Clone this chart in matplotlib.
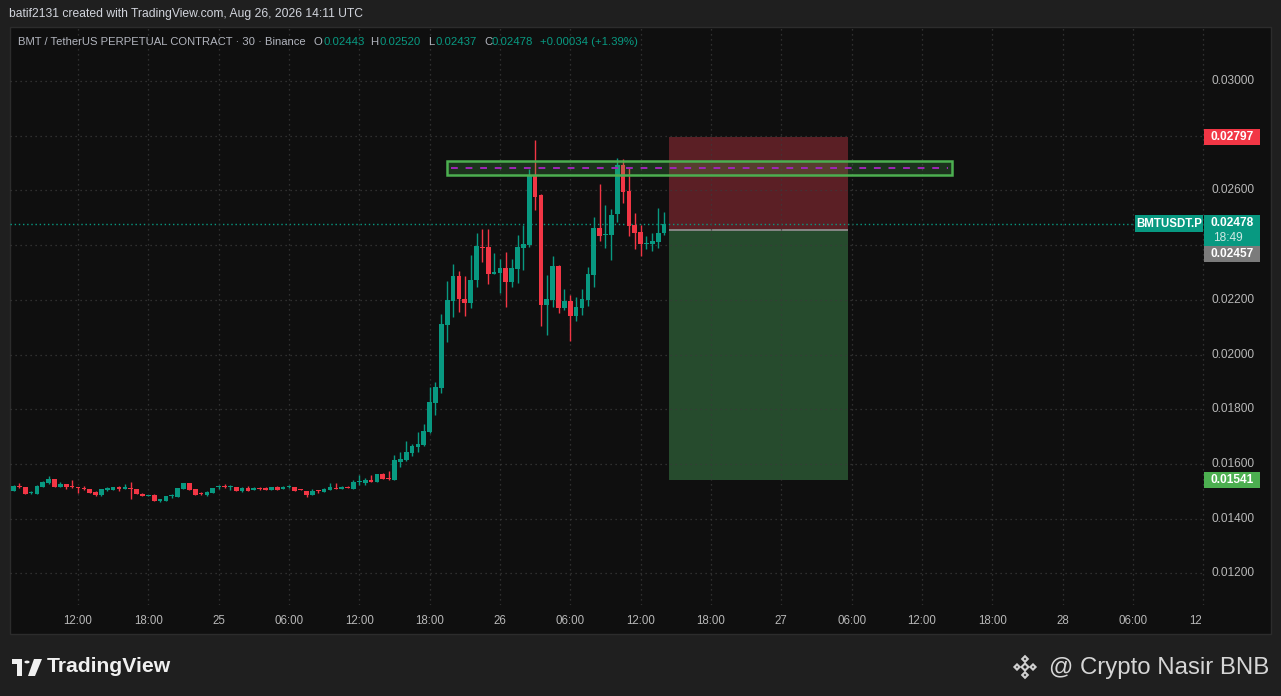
import numpy as np
import pandas as pd
import matplotlib
matplotlib.use("Agg")
import matplotlib.pyplot as plt
from matplotlib.patches import Rectangle, Polygon, Circle
from matplotlib.transforms import Bbox, TransformedBbox

plt.rcParams['font.family'] = ['Liberation Sans', 'DejaVu Sans']

# ============================================================
# DATA  (BMT/USDT.P, 30 min candles)
# ============================================================
start_time = '2026-08-24 06:30'
opens = [0.01502, 0.01519, 0.01516, 0.01493, 0.01491, 0.01517, 0.01530, 0.01545, 0.01517, 0.01527, 0.01521,
         0.01516, 0.01511, 0.01508, 0.01499, 0.01485, 0.01506, 0.01506, 0.01516, 0.01510, 0.01512, 0.01507,
         0.01491, 0.01482, 0.01488, 0.01466, 0.01466, 0.01483, 0.01480, 0.01510, 0.01530, 0.01508, 0.01492,
         0.01485, 0.01494, 0.01514, 0.01517, 0.01514, 0.01516, 0.01502, 0.01512, 0.01505, 0.01512, 0.01512,
         0.01505, 0.01516, 0.01510, 0.01514, 0.01516, 0.01507, 0.01501, 0.01486, 0.01505, 0.01497, 0.01505,
         0.01512, 0.01510, 0.01517, 0.01508, 0.01534, 0.01529, 0.01541, 0.01534, 0.01563, 0.01547, 0.01541,
         0.01608, 0.01614, 0.01641, 0.01663, 0.01669, 0.01717, 0.01823, 0.01877, 0.02108, 0.02197, 0.02287,
         0.02203, 0.02190, 0.02272, 0.02394, 0.02393, 0.02296, 0.02299, 0.02316, 0.02265, 0.02314, 0.02391,
         0.02400, 0.02653, 0.02583, 0.02181, 0.02199, 0.02324, 0.02171, 0.02196, 0.02141, 0.02171, 0.02199,
         0.02291, 0.02463, 0.02438, 0.02437, 0.02514, 0.02693, 0.02598, 0.02474, 0.02448, 0.02404, 0.02404,
         0.02411, 0.02443]
highs = [0.01524, 0.01530, 0.01517, 0.01502, 0.01524, 0.01536, 0.01556, 0.01546, 0.01534, 0.01528, 0.01541,
         0.01517, 0.01521, 0.01509, 0.01500, 0.01509, 0.01516, 0.01516, 0.01518, 0.01525, 0.01534, 0.01508,
         0.01492, 0.01487, 0.01489, 0.01473, 0.01484, 0.01491, 0.01513, 0.01532, 0.01531, 0.01509, 0.01496,
         0.01500, 0.01513, 0.01523, 0.01526, 0.01523, 0.01517, 0.01514, 0.01519, 0.01514, 0.01517, 0.01516,
         0.01515, 0.01519, 0.01519, 0.01522, 0.01517, 0.01510, 0.01502, 0.01507, 0.01506, 0.01512, 0.01529,
         0.01529, 0.01519, 0.01519, 0.01541, 0.01560, 0.01547, 0.01560, 0.01564, 0.01566, 0.01574, 0.01632,
         0.01643, 0.01684, 0.01673, 0.01717, 0.01746, 0.01880, 0.01899, 0.02148, 0.02269, 0.02331, 0.02305,
         0.02287, 0.02364, 0.02443, 0.02459, 0.02459, 0.02370, 0.02348, 0.02376, 0.02349, 0.02437, 0.02474,
         0.02677, 0.02784, 0.02587, 0.02290, 0.02360, 0.02326, 0.02239, 0.02218, 0.02210, 0.02239, 0.02320,
         0.02503, 0.02623, 0.02547, 0.02532, 0.02719, 0.02715, 0.02682, 0.02517, 0.02474, 0.02433, 0.02444,
         0.02536, 0.02520]
lows = [0.01500, 0.01512, 0.01490, 0.01489, 0.01490, 0.01515, 0.01527, 0.01516, 0.01516, 0.01509, 0.01512,
        0.01494, 0.01503, 0.01494, 0.01482, 0.01484, 0.01500, 0.01505, 0.01502, 0.01508, 0.01473, 0.01489,
        0.01481, 0.01481, 0.01465, 0.01462, 0.01465, 0.01474, 0.01479, 0.01509, 0.01505, 0.01487, 0.01488,
        0.01484, 0.01493, 0.01507, 0.01512, 0.01505, 0.01501, 0.01499, 0.01501, 0.01504, 0.01505, 0.01504,
        0.01504, 0.01504, 0.01507, 0.01512, 0.01501, 0.01503, 0.01480, 0.01485, 0.01495, 0.01496, 0.01504,
        0.01507, 0.01509, 0.01512, 0.01507, 0.01523, 0.01523, 0.01533, 0.01533, 0.01544, 0.01543, 0.01540,
        0.01590, 0.01612, 0.01629, 0.01645, 0.01665, 0.01712, 0.01779, 0.01859, 0.02047, 0.02138, 0.02157,
        0.02141, 0.02171, 0.02248, 0.02339, 0.02258, 0.02295, 0.02226, 0.02175, 0.02248, 0.02263, 0.02309,
        0.02394, 0.02528, 0.02104, 0.02071, 0.02175, 0.02152, 0.02163, 0.02049, 0.02122, 0.02144, 0.02177,
        0.02247, 0.02415, 0.02389, 0.02346, 0.02485, 0.02554, 0.02433, 0.02386, 0.02360, 0.02386, 0.02378,
        0.02389, 0.02437]
closes = [0.01519, 0.01514, 0.01491, 0.01496, 0.01518, 0.01534, 0.01545, 0.01517, 0.01528, 0.01517, 0.01514,
          0.01513, 0.01508, 0.01495, 0.01485, 0.01508, 0.01508, 0.01514, 0.01508, 0.01512, 0.01507, 0.01490,
          0.01482, 0.01486, 0.01466, 0.01469, 0.01483, 0.01486, 0.01512, 0.01530, 0.01506, 0.01488, 0.01489,
          0.01499, 0.01512, 0.01518, 0.01514, 0.01517, 0.01502, 0.01512, 0.01502, 0.01512, 0.01508, 0.01505,
          0.01514, 0.01505, 0.01516, 0.01517, 0.01502, 0.01504, 0.01486, 0.01501, 0.01501, 0.01508, 0.01517,
          0.01508, 0.01517, 0.01513, 0.01534, 0.01537, 0.01541, 0.01534, 0.01563, 0.01545, 0.01544, 0.01614,
          0.01619, 0.01643, 0.01665, 0.01673, 0.01720, 0.01826, 0.01881, 0.02112, 0.02199, 0.02287, 0.02204,
          0.02190, 0.02272, 0.02397, 0.02389, 0.02296, 0.02303, 0.02316, 0.02265, 0.02316, 0.02394, 0.02404,
          0.02653, 0.02577, 0.02181, 0.02203, 0.02324, 0.02171, 0.02196, 0.02141, 0.02174, 0.02203, 0.02294,
          0.02463, 0.02433, 0.02442, 0.02510, 0.02693, 0.02594, 0.02470, 0.02444, 0.02404, 0.02408, 0.02415,
          0.02444, 0.02478]

# position tool (short) and resistance zone
pos_start, pos_end = '2026-08-26 14:27', '2026-08-27 05:42'
entry_price, stop_price, target_price = 0.02457, 0.02797, 0.01541
zone_start, zone_end = '2026-08-25 19:30', '2026-08-27 14:33'
zone_low, zone_high, zone_mid = 0.02657, 0.02708, 0.02681
last_price = 0.02478

price_levels = [0.012, 0.014, 0.016, 0.018, 0.020, 0.022, 0.024, 0.026, 0.028, 0.030]
hidden_levels = [0.024, 0.028]   # covered by the coloured price labels

# ============================================================
# LAYOUT HELPERS (figure pixels)
# ============================================================
W, H = 1281, 696
BG_OUT, BG_PANEL = '#1f1f1f', '#0f0f0f'
UP, DOWN = '#089981', '#f23645'
GRID = '#3a3a3a'
AXTXT = '#b8b8b8'


def fx(x):
    return x / W


def fy(y):
    return 1 - y / H


ref = pd.Timestamp('2026-08-24 12:00')
step = pd.Timedelta('30min')


def tpos(t):
    return (pd.Timestamp(t) - ref) / step


times = pd.date_range(start_time, periods=len(opens), freq='30min')
xs = np.array([tpos(t) for t in times])
o, h, l, c = map(np.array, (opens, highs, lows, closes))

XMIN, XMAX = -11.6, 192.3
YMIN, YMAX = 0.010843, 0.031974
ppx = (YMAX - YMIN) / (605 - 27)   # price per pixel

fig = plt.figure(figsize=(W / 100, H / 100), dpi=100, facecolor=BG_OUT)
fig.patches.append(Rectangle((fx(10), fy(634)), (1271 - 10) / W, (634 - 27) / H,
                             transform=fig.transFigure, facecolor=BG_PANEL,
                             edgecolor='#2c2c2c', lw=1, zorder=-10))

ax = fig.add_axes([fx(10), fy(605), (1205 - 10) / W, (605 - 27) / H])
ax.set_facecolor('none')
ax.set_xlim(XMIN, XMAX)
ax.set_ylim(YMIN, YMAX)

tick_times = pd.date_range('2026-08-24 12:00', '2026-08-28 12:00', freq='6h')
tick_x = [tpos(t) for t in tick_times]
tick_lbl = [str(t.day) if t.hour == 0 else t.strftime('%H:%M') for t in tick_times]

ax.set_xticks(tick_x)
ax.set_yticks(price_levels)
ax.grid(True, color=GRID, ls=(0, (1, 3)), lw=0.9)
ax.tick_params(length=0, labelbottom=False, labelleft=False)
for s in ax.spines.values():
    s.set_visible(False)

# ============================================================
# CANDLES
# ============================================================
cols = np.where(c >= o, UP, DOWN)
ax.vlines(xs, l, h, colors=cols, lw=1, zorder=2)
body_lo = np.minimum(o, c)
body_h = np.maximum(np.abs(c - o), ppx * 1.2)
ax.bar(xs, body_h, bottom=body_lo, width=0.8, color=cols, lw=0, zorder=2)

# current price dotted line
ax.axhline(last_price, color=UP, ls=(0, (1, 2)), lw=1, zorder=1.5)

# ============================================================
# SHORT POSITION TOOL + RESISTANCE BOX
# ============================================================
p0, p1 = tpos(pos_start), tpos(pos_end)
ax.add_patch(Rectangle((p0, entry_price), p1 - p0, stop_price - entry_price,
                       facecolor='#5b1f25', lw=0, zorder=1))
ax.add_patch(Rectangle((p0, target_price), p1 - p0, entry_price - target_price,
                       facecolor='#264b2d', lw=0, zorder=1))
ax.hlines(entry_price, p0, p1, color='#8c8c8c', lw=1.3, zorder=1.2)

z0, z1 = tpos(zone_start), tpos(zone_end)
ax.add_patch(Rectangle((z0, zone_low), z1 - z0, zone_high - zone_low,
                       facecolor=(76 / 255, 175 / 255, 80 / 255, 0.22),
                       edgecolor='#4caf50', lw=1.8, zorder=3))
ax.hlines(zone_mid, z0 + 0.6, z1 - 0.6, color='#a027b8', ls=(0, (3.5, 4)), lw=1.4, zorder=3.1)

# symbol label at the right edge of the plot
yt = ax.get_yaxis_transform()
ax.add_patch(Rectangle(((1135 - 10) / 1195, last_price - 8.5 * ppx), (1203 - 1135) / 1195, 17 * ppx,
                       transform=yt, facecolor=UP, lw=0, zorder=5, clip_on=False))
ax.text((1169 - 10) / 1195, last_price, 'BMTUSDT.P', transform=yt, ha='center', va='center',
        color='white', fontsize=8.3, fontweight='bold', zorder=6)

# ============================================================
# PRICE SCALE
# ============================================================
pax = fig.add_axes([fx(1205), fy(605), (1271 - 1205) / W, (605 - 27) / H])
pax.set_facecolor('none')
pax.set_ylim(YMIN, YMAX)
pax.set_xlim(0, 1)
pax.axis('off')
for lv in price_levels:
    if lv in hidden_levels:
        continue
    pax.text(7 / 66, lv, f'{lv:.5f}', ha='left', va='center', color=AXTXT, fontsize=8.6)


def price_tag(price, text, color, y_off=0.0, h_px=16):
    pax.add_patch(Rectangle((-1 / 66, price - (h_px / 2) * ppx + y_off), 56 / 66, h_px * ppx,
                            facecolor=color, lw=0, zorder=5, clip_on=False))
    pax.text(27 / 66, price + y_off, text, ha='center', va='center', color='white',
             fontsize=8.6, fontweight='bold', zorder=6, clip_on=False)


price_tag(stop_price, f'{stop_price:.5f}', DOWN)
price_tag(target_price, f'{target_price:.5f}', '#4caf50')
# current price with countdown
pax.add_patch(Rectangle((-1 / 66, last_price - 22.5 * ppx), 56 / 66, 31 * ppx,
                        facecolor=UP, lw=0, zorder=5, clip_on=False))
pax.text(27 / 66, last_price + 0.5 * ppx, f'{last_price:.5f}', ha='center', va='center',
         color='white', fontsize=8.6, fontweight='bold', zorder=6)
pax.text(23 / 66, last_price - 14 * ppx, '18:49', ha='center', va='center',
         color='#cfe9e4', fontsize=8.6, zorder=6)
# entry tag pushed below the current price tag
pax.add_patch(Rectangle((-1 / 66, last_price - 38.5 * ppx), 56 / 66, 16 * ppx,
                        facecolor='#7b7b7b', lw=0, zorder=5, clip_on=False))
pax.text(27 / 66, last_price - 30.5 * ppx, f'{entry_price:.5f}', ha='center', va='center',
         color='white', fontsize=8.6, fontweight='bold', zorder=6)

# ============================================================
# TIME SCALE
# ============================================================
tax = fig.add_axes([fx(10), fy(634), (1205 - 10) / W, (634 - 605) / H])
tax.set_facecolor('none')
tax.set_xlim(XMIN, XMAX)
tax.set_ylim(0, 1)
tax.axis('off')
tclip = TransformedBbox(Bbox([[fx(10), 0], [fx(1201), 1]]), fig.transFigure)
for tx, tl in zip(tick_x, tick_lbl):
    t = tax.text(tx, 0.45, tl, ha='center', va='center', color=AXTXT, fontsize=8.3, clip_on=True)
    t.set_clip_box(tclip)

# ============================================================
# HEADER / FOOTER TEXT
# ============================================================
fig.text(fx(9), fy(14), 'batif2131 created with TradingView.com, Aug 26, 2026 14:11 UTC',
         ha='left', va='center', color='#d1d4dc', fontsize=8.7)
fig.text(fx(18), fy(42), 'BMT / TetherUS PERPETUAL CONTRACT · 30 · Binance',
         ha='left', va='center', color='#b2b5be', fontsize=8.1)
ohlc = [('O', 314, 323, f'{o[-1]:.5f}'), ('H', 370, 379, f'{h[-1]:.5f}'),
        ('L', 428, 435, f'{l[-1]:.5f}'), ('C', 484, 492, f'{c[-1]:.5f}')]
for key, kx, vx, val in ohlc:
    fig.text(fx(kx), fy(42), key, ha='left', va='center', color='#b2b5be', fontsize=8.2)
    fig.text(fx(vx), fy(42), val, ha='left', va='center', color=UP, fontsize=8.2)
chg = c[-1] - c[-2]
fig.text(fx(540), fy(42), f'+{chg:.5f} (+{chg / c[-2] * 100:.2f}%)',
         ha='left', va='center', color=UP, fontsize=8.2)

# TradingView logo (rough shapes) + wordmark
logo = '#f0f0f0'
fig.patches.append(Rectangle((fx(12), fy(664)), 10 / W, 5 / H, transform=fig.transFigure, fc=logo, lw=0))
fig.patches.append(Rectangle((fx(17), fy(676)), 5 / W, 17 / H, transform=fig.transFigure, fc=logo, lw=0))
fig.patches.append(Circle((fx(27), fy(662)), 2.6 / W, transform=fig.transFigure, fc=logo, lw=0))
fig.patches.append(Polygon([(fx(34), fy(659)), (fx(42), fy(659)), (fx(35), fy(676)), (fx(28), fy(676))],
                           closed=True, transform=fig.transFigure, fc=logo, lw=0))
fig.text(fx(47), fy(666), 'TradingView', ha='left', va='center', color=logo,
         fontsize=15.2, fontweight='bold')

# Binance-like mark + signature
bx, by = 1025, 667
for dx, dy, r in [(0, 0, 3.5), (0, -8, 2.8), (0, 8, 2.8), (-8, 0, 2.6), (8, 0, 2.6)]:
    cx, cy = bx + dx, by + dy
    fig.patches.append(Polygon([(fx(cx), fy(cy - r)), (fx(cx + r), fy(cy)), (fx(cx), fy(cy + r)),
                                (fx(cx - r), fy(cy))], closed=True, transform=fig.transFigure,
                               fc='none', ec='#d0d0d0', lw=1.5))
fig.text(fx(1049), fy(668), '@ Crypto Nasir BNB', ha='left', va='center', color='#d6d6d6',
         fontsize=17.3)

fig.savefig('out.png', dpi=100, facecolor=BG_OUT)
